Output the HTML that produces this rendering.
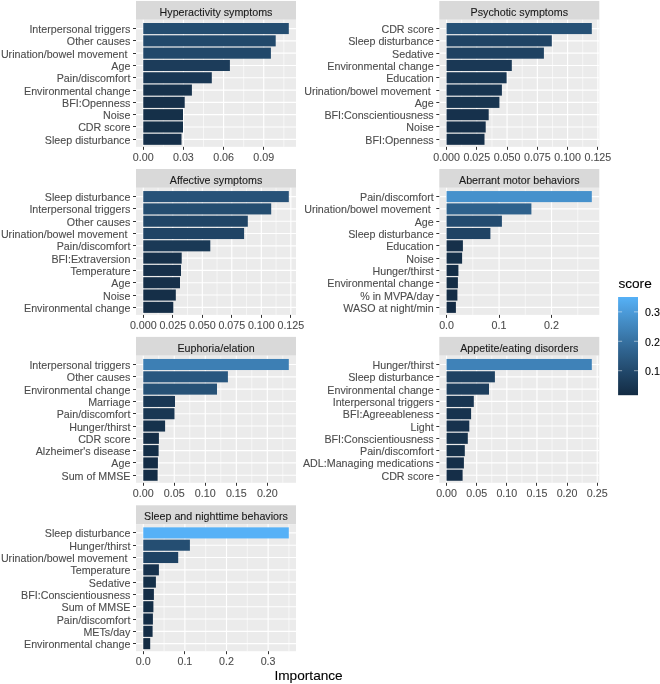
<!DOCTYPE html>
<html><head><meta charset="utf-8"><style>
html,body{margin:0;padding:0;background:#fff;}
svg{display:block;font-family:"Liberation Sans",sans-serif;will-change:transform;}
</style></head><body>
<svg width="660" height="684" viewBox="0 0 660 684">
<rect x="0" y="0" width="660" height="684" fill="#FFFFFF"/>
<rect x="136.0" y="0.95" width="160.0" height="18.8" fill="#D9D9D9"/>
<text x="216.0" y="15.549999999999999" font-size="10.7" fill="#1A1A1A" stroke="#1A1A1A" stroke-width="0.1" text-anchor="middle">Hyperactivity symptoms</text>
<rect x="136.0" y="19.75" width="160.0" height="127.10" fill="#EBEBEB"/>
<line x1="163.35" y1="19.75" x2="163.35" y2="146.85" stroke="#FFFFFF" stroke-width="0.6"/>
<line x1="203.52" y1="19.75" x2="203.52" y2="146.85" stroke="#FFFFFF" stroke-width="0.6"/>
<line x1="243.68" y1="19.75" x2="243.68" y2="146.85" stroke="#FFFFFF" stroke-width="0.6"/>
<line x1="283.84" y1="19.75" x2="283.84" y2="146.85" stroke="#FFFFFF" stroke-width="0.6"/>
<line x1="143.27" y1="19.75" x2="143.27" y2="146.85" stroke="#FFFFFF" stroke-width="1.15"/>
<line x1="183.43" y1="19.75" x2="183.43" y2="146.85" stroke="#FFFFFF" stroke-width="1.15"/>
<line x1="223.60" y1="19.75" x2="223.60" y2="146.85" stroke="#FFFFFF" stroke-width="1.15"/>
<line x1="263.76" y1="19.75" x2="263.76" y2="146.85" stroke="#FFFFFF" stroke-width="1.15"/>
<line x1="136.0" y1="28.55" x2="296.0" y2="28.55" stroke="#FFFFFF" stroke-width="1.15"/>
<line x1="136.0" y1="40.86" x2="296.0" y2="40.86" stroke="#FFFFFF" stroke-width="1.15"/>
<line x1="136.0" y1="53.16" x2="296.0" y2="53.16" stroke="#FFFFFF" stroke-width="1.15"/>
<line x1="136.0" y1="65.47" x2="296.0" y2="65.47" stroke="#FFFFFF" stroke-width="1.15"/>
<line x1="136.0" y1="77.77" x2="296.0" y2="77.77" stroke="#FFFFFF" stroke-width="1.15"/>
<line x1="136.0" y1="90.08" x2="296.0" y2="90.08" stroke="#FFFFFF" stroke-width="1.15"/>
<line x1="136.0" y1="102.38" x2="296.0" y2="102.38" stroke="#FFFFFF" stroke-width="1.15"/>
<line x1="136.0" y1="114.68" x2="296.0" y2="114.68" stroke="#FFFFFF" stroke-width="1.15"/>
<line x1="136.0" y1="126.99" x2="296.0" y2="126.99" stroke="#FFFFFF" stroke-width="1.15"/>
<line x1="136.0" y1="139.30" x2="296.0" y2="139.30" stroke="#FFFFFF" stroke-width="1.15"/>
<rect x="143.27" y="23.01" width="145.53" height="11.07" fill="#244D70"/>
<rect x="143.27" y="35.32" width="132.43" height="11.07" fill="#22496B"/>
<rect x="143.27" y="47.62" width="127.63" height="11.07" fill="#21486A"/>
<rect x="143.27" y="59.93" width="86.63" height="11.07" fill="#1C3C5A"/>
<rect x="143.27" y="72.23" width="68.53" height="11.07" fill="#193754"/>
<rect x="143.27" y="84.54" width="48.63" height="11.07" fill="#17324C"/>
<rect x="143.27" y="96.84" width="41.43" height="11.07" fill="#16304A"/>
<rect x="143.27" y="109.15" width="39.73" height="11.07" fill="#153049"/>
<rect x="143.27" y="121.45" width="39.73" height="11.07" fill="#153049"/>
<rect x="143.27" y="133.76" width="38.23" height="11.07" fill="#152F49"/>
<line x1="133.00" y1="28.50" x2="136.0" y2="28.50" stroke="#333333" stroke-width="1.0"/>
<text x="130.40" y="33.05" font-size="10.7" fill="#4D4D4D" stroke="#4D4D4D" stroke-width="0.1" text-anchor="end" xml:space="preserve">Interpersonal triggers</text>
<line x1="133.00" y1="40.50" x2="136.0" y2="40.50" stroke="#333333" stroke-width="1.0"/>
<text x="130.40" y="45.36" font-size="10.7" fill="#4D4D4D" stroke="#4D4D4D" stroke-width="0.1" text-anchor="end" xml:space="preserve">Other causes</text>
<line x1="133.00" y1="53.50" x2="136.0" y2="53.50" stroke="#333333" stroke-width="1.0"/>
<text x="130.40" y="57.66" font-size="10.7" fill="#4D4D4D" stroke="#4D4D4D" stroke-width="0.1" text-anchor="end" xml:space="preserve">Urination/bowel movement </text>
<line x1="133.00" y1="65.50" x2="136.0" y2="65.50" stroke="#333333" stroke-width="1.0"/>
<text x="130.40" y="69.97" font-size="10.7" fill="#4D4D4D" stroke="#4D4D4D" stroke-width="0.1" text-anchor="end" xml:space="preserve">Age</text>
<line x1="133.00" y1="77.50" x2="136.0" y2="77.50" stroke="#333333" stroke-width="1.0"/>
<text x="130.40" y="82.27" font-size="10.7" fill="#4D4D4D" stroke="#4D4D4D" stroke-width="0.1" text-anchor="end" xml:space="preserve">Pain/discomfort</text>
<line x1="133.00" y1="90.50" x2="136.0" y2="90.50" stroke="#333333" stroke-width="1.0"/>
<text x="130.40" y="94.58" font-size="10.7" fill="#4D4D4D" stroke="#4D4D4D" stroke-width="0.1" text-anchor="end" xml:space="preserve">Environmental change</text>
<line x1="133.00" y1="102.50" x2="136.0" y2="102.50" stroke="#333333" stroke-width="1.0"/>
<text x="130.40" y="106.88" font-size="10.7" fill="#4D4D4D" stroke="#4D4D4D" stroke-width="0.1" text-anchor="end" xml:space="preserve">BFI:Openness</text>
<line x1="133.00" y1="114.50" x2="136.0" y2="114.50" stroke="#333333" stroke-width="1.0"/>
<text x="130.40" y="119.18" font-size="10.7" fill="#4D4D4D" stroke="#4D4D4D" stroke-width="0.1" text-anchor="end" xml:space="preserve">Noise</text>
<line x1="133.00" y1="126.50" x2="136.0" y2="126.50" stroke="#333333" stroke-width="1.0"/>
<text x="130.40" y="131.49" font-size="10.7" fill="#4D4D4D" stroke="#4D4D4D" stroke-width="0.1" text-anchor="end" xml:space="preserve">CDR score</text>
<line x1="133.00" y1="139.50" x2="136.0" y2="139.50" stroke="#333333" stroke-width="1.0"/>
<text x="130.40" y="143.80" font-size="10.7" fill="#4D4D4D" stroke="#4D4D4D" stroke-width="0.1" text-anchor="end" xml:space="preserve">Sleep disturbance</text>
<line x1="143.50" y1="146.85" x2="143.50" y2="149.85" stroke="#333333" stroke-width="1.0"/>
<text x="143.27" y="161.05" font-size="10.7" fill="#4D4D4D" stroke="#4D4D4D" stroke-width="0.1" text-anchor="middle">0.00</text>
<line x1="183.50" y1="146.85" x2="183.50" y2="149.85" stroke="#333333" stroke-width="1.0"/>
<text x="183.43" y="161.05" font-size="10.7" fill="#4D4D4D" stroke="#4D4D4D" stroke-width="0.1" text-anchor="middle">0.03</text>
<line x1="223.50" y1="146.85" x2="223.50" y2="149.85" stroke="#333333" stroke-width="1.0"/>
<text x="223.60" y="161.05" font-size="10.7" fill="#4D4D4D" stroke="#4D4D4D" stroke-width="0.1" text-anchor="middle">0.06</text>
<line x1="263.50" y1="146.85" x2="263.50" y2="149.85" stroke="#333333" stroke-width="1.0"/>
<text x="263.76" y="161.05" font-size="10.7" fill="#4D4D4D" stroke="#4D4D4D" stroke-width="0.1" text-anchor="middle">0.09</text>
<rect x="439.3" y="0.95" width="160.0" height="18.8" fill="#D9D9D9"/>
<text x="519.3" y="15.549999999999999" font-size="10.7" fill="#1A1A1A" stroke="#1A1A1A" stroke-width="0.1" text-anchor="middle">Psychotic symptoms</text>
<rect x="439.3" y="19.75" width="160.0" height="127.10" fill="#EBEBEB"/>
<line x1="461.70" y1="19.75" x2="461.70" y2="146.85" stroke="#FFFFFF" stroke-width="0.6"/>
<line x1="491.96" y1="19.75" x2="491.96" y2="146.85" stroke="#FFFFFF" stroke-width="0.6"/>
<line x1="522.22" y1="19.75" x2="522.22" y2="146.85" stroke="#FFFFFF" stroke-width="0.6"/>
<line x1="552.48" y1="19.75" x2="552.48" y2="146.85" stroke="#FFFFFF" stroke-width="0.6"/>
<line x1="582.74" y1="19.75" x2="582.74" y2="146.85" stroke="#FFFFFF" stroke-width="0.6"/>
<line x1="446.57" y1="19.75" x2="446.57" y2="146.85" stroke="#FFFFFF" stroke-width="1.15"/>
<line x1="476.83" y1="19.75" x2="476.83" y2="146.85" stroke="#FFFFFF" stroke-width="1.15"/>
<line x1="507.09" y1="19.75" x2="507.09" y2="146.85" stroke="#FFFFFF" stroke-width="1.15"/>
<line x1="537.35" y1="19.75" x2="537.35" y2="146.85" stroke="#FFFFFF" stroke-width="1.15"/>
<line x1="567.61" y1="19.75" x2="567.61" y2="146.85" stroke="#FFFFFF" stroke-width="1.15"/>
<line x1="597.87" y1="19.75" x2="597.87" y2="146.85" stroke="#FFFFFF" stroke-width="1.15"/>
<line x1="439.3" y1="28.55" x2="599.3" y2="28.55" stroke="#FFFFFF" stroke-width="1.15"/>
<line x1="439.3" y1="40.86" x2="599.3" y2="40.86" stroke="#FFFFFF" stroke-width="1.15"/>
<line x1="439.3" y1="53.16" x2="599.3" y2="53.16" stroke="#FFFFFF" stroke-width="1.15"/>
<line x1="439.3" y1="65.47" x2="599.3" y2="65.47" stroke="#FFFFFF" stroke-width="1.15"/>
<line x1="439.3" y1="77.77" x2="599.3" y2="77.77" stroke="#FFFFFF" stroke-width="1.15"/>
<line x1="439.3" y1="90.08" x2="599.3" y2="90.08" stroke="#FFFFFF" stroke-width="1.15"/>
<line x1="439.3" y1="102.38" x2="599.3" y2="102.38" stroke="#FFFFFF" stroke-width="1.15"/>
<line x1="439.3" y1="114.68" x2="599.3" y2="114.68" stroke="#FFFFFF" stroke-width="1.15"/>
<line x1="439.3" y1="126.99" x2="599.3" y2="126.99" stroke="#FFFFFF" stroke-width="1.15"/>
<line x1="439.3" y1="139.30" x2="599.3" y2="139.30" stroke="#FFFFFF" stroke-width="1.15"/>
<rect x="446.57" y="23.01" width="145.23" height="11.07" fill="#265176"/>
<rect x="446.57" y="35.32" width="105.23" height="11.07" fill="#204465"/>
<rect x="446.57" y="47.62" width="97.33" height="11.07" fill="#1F4262"/>
<rect x="446.57" y="59.93" width="65.23" height="11.07" fill="#1A3855"/>
<rect x="446.57" y="72.23" width="60.03" height="11.07" fill="#193753"/>
<rect x="446.57" y="84.54" width="55.33" height="11.07" fill="#183551"/>
<rect x="446.57" y="96.84" width="52.83" height="11.07" fill="#183550"/>
<rect x="446.57" y="109.15" width="42.13" height="11.07" fill="#16314C"/>
<rect x="446.57" y="121.45" width="39.13" height="11.07" fill="#16304A"/>
<rect x="446.57" y="133.76" width="37.93" height="11.07" fill="#16304A"/>
<line x1="436.30" y1="28.50" x2="439.3" y2="28.50" stroke="#333333" stroke-width="1.0"/>
<text x="433.70" y="33.05" font-size="10.7" fill="#4D4D4D" stroke="#4D4D4D" stroke-width="0.1" text-anchor="end" xml:space="preserve">CDR score</text>
<line x1="436.30" y1="40.50" x2="439.3" y2="40.50" stroke="#333333" stroke-width="1.0"/>
<text x="433.70" y="45.36" font-size="10.7" fill="#4D4D4D" stroke="#4D4D4D" stroke-width="0.1" text-anchor="end" xml:space="preserve">Sleep disturbance</text>
<line x1="436.30" y1="53.50" x2="439.3" y2="53.50" stroke="#333333" stroke-width="1.0"/>
<text x="433.70" y="57.66" font-size="10.7" fill="#4D4D4D" stroke="#4D4D4D" stroke-width="0.1" text-anchor="end" xml:space="preserve">Sedative</text>
<line x1="436.30" y1="65.50" x2="439.3" y2="65.50" stroke="#333333" stroke-width="1.0"/>
<text x="433.70" y="69.97" font-size="10.7" fill="#4D4D4D" stroke="#4D4D4D" stroke-width="0.1" text-anchor="end" xml:space="preserve">Environmental change</text>
<line x1="436.30" y1="77.50" x2="439.3" y2="77.50" stroke="#333333" stroke-width="1.0"/>
<text x="433.70" y="82.27" font-size="10.7" fill="#4D4D4D" stroke="#4D4D4D" stroke-width="0.1" text-anchor="end" xml:space="preserve">Education</text>
<line x1="436.30" y1="90.50" x2="439.3" y2="90.50" stroke="#333333" stroke-width="1.0"/>
<text x="433.70" y="94.58" font-size="10.7" fill="#4D4D4D" stroke="#4D4D4D" stroke-width="0.1" text-anchor="end" xml:space="preserve">Urination/bowel movement </text>
<line x1="436.30" y1="102.50" x2="439.3" y2="102.50" stroke="#333333" stroke-width="1.0"/>
<text x="433.70" y="106.88" font-size="10.7" fill="#4D4D4D" stroke="#4D4D4D" stroke-width="0.1" text-anchor="end" xml:space="preserve">Age</text>
<line x1="436.30" y1="114.50" x2="439.3" y2="114.50" stroke="#333333" stroke-width="1.0"/>
<text x="433.70" y="119.18" font-size="10.7" fill="#4D4D4D" stroke="#4D4D4D" stroke-width="0.1" text-anchor="end" xml:space="preserve">BFI:Conscientiousness</text>
<line x1="436.30" y1="126.50" x2="439.3" y2="126.50" stroke="#333333" stroke-width="1.0"/>
<text x="433.70" y="131.49" font-size="10.7" fill="#4D4D4D" stroke="#4D4D4D" stroke-width="0.1" text-anchor="end" xml:space="preserve">Noise</text>
<line x1="436.30" y1="139.50" x2="439.3" y2="139.50" stroke="#333333" stroke-width="1.0"/>
<text x="433.70" y="143.80" font-size="10.7" fill="#4D4D4D" stroke="#4D4D4D" stroke-width="0.1" text-anchor="end" xml:space="preserve">BFI:Openness</text>
<line x1="446.50" y1="146.85" x2="446.50" y2="149.85" stroke="#333333" stroke-width="1.0"/>
<text x="446.57" y="161.05" font-size="10.7" fill="#4D4D4D" stroke="#4D4D4D" stroke-width="0.1" text-anchor="middle">0.000</text>
<line x1="476.50" y1="146.85" x2="476.50" y2="149.85" stroke="#333333" stroke-width="1.0"/>
<text x="476.83" y="161.05" font-size="10.7" fill="#4D4D4D" stroke="#4D4D4D" stroke-width="0.1" text-anchor="middle">0.025</text>
<line x1="507.50" y1="146.85" x2="507.50" y2="149.85" stroke="#333333" stroke-width="1.0"/>
<text x="507.09" y="161.05" font-size="10.7" fill="#4D4D4D" stroke="#4D4D4D" stroke-width="0.1" text-anchor="middle">0.050</text>
<line x1="537.50" y1="146.85" x2="537.50" y2="149.85" stroke="#333333" stroke-width="1.0"/>
<text x="537.35" y="161.05" font-size="10.7" fill="#4D4D4D" stroke="#4D4D4D" stroke-width="0.1" text-anchor="middle">0.075</text>
<line x1="567.50" y1="146.85" x2="567.50" y2="149.85" stroke="#333333" stroke-width="1.0"/>
<text x="567.61" y="161.05" font-size="10.7" fill="#4D4D4D" stroke="#4D4D4D" stroke-width="0.1" text-anchor="middle">0.100</text>
<line x1="597.50" y1="146.85" x2="597.50" y2="149.85" stroke="#333333" stroke-width="1.0"/>
<text x="597.87" y="161.05" font-size="10.7" fill="#4D4D4D" stroke="#4D4D4D" stroke-width="0.1" text-anchor="middle">0.125</text>
<rect x="136.0" y="169.0" width="160.0" height="18.8" fill="#D9D9D9"/>
<text x="216.0" y="183.6" font-size="10.7" fill="#1A1A1A" stroke="#1A1A1A" stroke-width="0.1" text-anchor="middle">Affective symptoms</text>
<rect x="136.0" y="187.8" width="160.0" height="127.10" fill="#EBEBEB"/>
<line x1="158.03" y1="187.8" x2="158.03" y2="314.9" stroke="#FFFFFF" stroke-width="0.6"/>
<line x1="187.54" y1="187.8" x2="187.54" y2="314.9" stroke="#FFFFFF" stroke-width="0.6"/>
<line x1="217.05" y1="187.8" x2="217.05" y2="314.9" stroke="#FFFFFF" stroke-width="0.6"/>
<line x1="246.56" y1="187.8" x2="246.56" y2="314.9" stroke="#FFFFFF" stroke-width="0.6"/>
<line x1="276.06" y1="187.8" x2="276.06" y2="314.9" stroke="#FFFFFF" stroke-width="0.6"/>
<line x1="143.27" y1="187.8" x2="143.27" y2="314.9" stroke="#FFFFFF" stroke-width="1.15"/>
<line x1="172.78" y1="187.8" x2="172.78" y2="314.9" stroke="#FFFFFF" stroke-width="1.15"/>
<line x1="202.29" y1="187.8" x2="202.29" y2="314.9" stroke="#FFFFFF" stroke-width="1.15"/>
<line x1="231.80" y1="187.8" x2="231.80" y2="314.9" stroke="#FFFFFF" stroke-width="1.15"/>
<line x1="261.31" y1="187.8" x2="261.31" y2="314.9" stroke="#FFFFFF" stroke-width="1.15"/>
<line x1="290.82" y1="187.8" x2="290.82" y2="314.9" stroke="#FFFFFF" stroke-width="1.15"/>
<line x1="136.0" y1="196.60" x2="296.0" y2="196.60" stroke="#FFFFFF" stroke-width="1.15"/>
<line x1="136.0" y1="208.91" x2="296.0" y2="208.91" stroke="#FFFFFF" stroke-width="1.15"/>
<line x1="136.0" y1="221.21" x2="296.0" y2="221.21" stroke="#FFFFFF" stroke-width="1.15"/>
<line x1="136.0" y1="233.51" x2="296.0" y2="233.51" stroke="#FFFFFF" stroke-width="1.15"/>
<line x1="136.0" y1="245.82" x2="296.0" y2="245.82" stroke="#FFFFFF" stroke-width="1.15"/>
<line x1="136.0" y1="258.12" x2="296.0" y2="258.12" stroke="#FFFFFF" stroke-width="1.15"/>
<line x1="136.0" y1="270.43" x2="296.0" y2="270.43" stroke="#FFFFFF" stroke-width="1.15"/>
<line x1="136.0" y1="282.74" x2="296.0" y2="282.74" stroke="#FFFFFF" stroke-width="1.15"/>
<line x1="136.0" y1="295.04" x2="296.0" y2="295.04" stroke="#FFFFFF" stroke-width="1.15"/>
<line x1="136.0" y1="307.35" x2="296.0" y2="307.35" stroke="#FFFFFF" stroke-width="1.15"/>
<rect x="143.27" y="191.06" width="145.53" height="11.07" fill="#275278"/>
<rect x="143.27" y="203.37" width="127.93" height="11.07" fill="#244D70"/>
<rect x="143.27" y="215.67" width="104.53" height="11.07" fill="#204566"/>
<rect x="143.27" y="227.98" width="100.83" height="11.07" fill="#204465"/>
<rect x="143.27" y="240.28" width="67.03" height="11.07" fill="#1A3956"/>
<rect x="143.27" y="252.59" width="38.43" height="11.07" fill="#16314B"/>
<rect x="143.27" y="264.89" width="37.73" height="11.07" fill="#16304A"/>
<rect x="143.27" y="277.20" width="36.73" height="11.07" fill="#16304A"/>
<rect x="143.27" y="289.50" width="32.53" height="11.07" fill="#152F48"/>
<rect x="143.27" y="301.81" width="30.03" height="11.07" fill="#152E47"/>
<line x1="133.00" y1="196.50" x2="136.0" y2="196.50" stroke="#333333" stroke-width="1.0"/>
<text x="130.40" y="201.10" font-size="10.7" fill="#4D4D4D" stroke="#4D4D4D" stroke-width="0.1" text-anchor="end" xml:space="preserve">Sleep disturbance</text>
<line x1="133.00" y1="208.50" x2="136.0" y2="208.50" stroke="#333333" stroke-width="1.0"/>
<text x="130.40" y="213.41" font-size="10.7" fill="#4D4D4D" stroke="#4D4D4D" stroke-width="0.1" text-anchor="end" xml:space="preserve">Interpersonal triggers</text>
<line x1="133.00" y1="221.50" x2="136.0" y2="221.50" stroke="#333333" stroke-width="1.0"/>
<text x="130.40" y="225.71" font-size="10.7" fill="#4D4D4D" stroke="#4D4D4D" stroke-width="0.1" text-anchor="end" xml:space="preserve">Other causes</text>
<line x1="133.00" y1="233.50" x2="136.0" y2="233.50" stroke="#333333" stroke-width="1.0"/>
<text x="130.40" y="238.01" font-size="10.7" fill="#4D4D4D" stroke="#4D4D4D" stroke-width="0.1" text-anchor="end" xml:space="preserve">Urination/bowel movement </text>
<line x1="133.00" y1="245.50" x2="136.0" y2="245.50" stroke="#333333" stroke-width="1.0"/>
<text x="130.40" y="250.32" font-size="10.7" fill="#4D4D4D" stroke="#4D4D4D" stroke-width="0.1" text-anchor="end" xml:space="preserve">Pain/discomfort</text>
<line x1="133.00" y1="258.50" x2="136.0" y2="258.50" stroke="#333333" stroke-width="1.0"/>
<text x="130.40" y="262.62" font-size="10.7" fill="#4D4D4D" stroke="#4D4D4D" stroke-width="0.1" text-anchor="end" xml:space="preserve">BFI:Extraversion</text>
<line x1="133.00" y1="270.50" x2="136.0" y2="270.50" stroke="#333333" stroke-width="1.0"/>
<text x="130.40" y="274.93" font-size="10.7" fill="#4D4D4D" stroke="#4D4D4D" stroke-width="0.1" text-anchor="end" xml:space="preserve">Temperature</text>
<line x1="133.00" y1="282.50" x2="136.0" y2="282.50" stroke="#333333" stroke-width="1.0"/>
<text x="130.40" y="287.24" font-size="10.7" fill="#4D4D4D" stroke="#4D4D4D" stroke-width="0.1" text-anchor="end" xml:space="preserve">Age</text>
<line x1="133.00" y1="295.50" x2="136.0" y2="295.50" stroke="#333333" stroke-width="1.0"/>
<text x="130.40" y="299.54" font-size="10.7" fill="#4D4D4D" stroke="#4D4D4D" stroke-width="0.1" text-anchor="end" xml:space="preserve">Noise</text>
<line x1="133.00" y1="307.50" x2="136.0" y2="307.50" stroke="#333333" stroke-width="1.0"/>
<text x="130.40" y="311.85" font-size="10.7" fill="#4D4D4D" stroke="#4D4D4D" stroke-width="0.1" text-anchor="end" xml:space="preserve">Environmental change</text>
<line x1="143.50" y1="314.9" x2="143.50" y2="317.90" stroke="#333333" stroke-width="1.0"/>
<text x="143.27" y="329.10" font-size="10.7" fill="#4D4D4D" stroke="#4D4D4D" stroke-width="0.1" text-anchor="middle">0.000</text>
<line x1="172.50" y1="314.9" x2="172.50" y2="317.90" stroke="#333333" stroke-width="1.0"/>
<text x="172.78" y="329.10" font-size="10.7" fill="#4D4D4D" stroke="#4D4D4D" stroke-width="0.1" text-anchor="middle">0.025</text>
<line x1="202.50" y1="314.9" x2="202.50" y2="317.90" stroke="#333333" stroke-width="1.0"/>
<text x="202.29" y="329.10" font-size="10.7" fill="#4D4D4D" stroke="#4D4D4D" stroke-width="0.1" text-anchor="middle">0.050</text>
<line x1="231.50" y1="314.9" x2="231.50" y2="317.90" stroke="#333333" stroke-width="1.0"/>
<text x="231.80" y="329.10" font-size="10.7" fill="#4D4D4D" stroke="#4D4D4D" stroke-width="0.1" text-anchor="middle">0.075</text>
<line x1="261.50" y1="314.9" x2="261.50" y2="317.90" stroke="#333333" stroke-width="1.0"/>
<text x="261.31" y="329.10" font-size="10.7" fill="#4D4D4D" stroke="#4D4D4D" stroke-width="0.1" text-anchor="middle">0.100</text>
<line x1="290.50" y1="314.9" x2="290.50" y2="317.90" stroke="#333333" stroke-width="1.0"/>
<text x="290.82" y="329.10" font-size="10.7" fill="#4D4D4D" stroke="#4D4D4D" stroke-width="0.1" text-anchor="middle">0.125</text>
<rect x="439.3" y="169.0" width="160.0" height="18.8" fill="#D9D9D9"/>
<text x="519.3" y="183.6" font-size="10.7" fill="#1A1A1A" stroke="#1A1A1A" stroke-width="0.1" text-anchor="middle">Aberrant motor behaviors</text>
<rect x="439.3" y="187.8" width="160.0" height="127.10" fill="#EBEBEB"/>
<line x1="472.81" y1="187.8" x2="472.81" y2="314.9" stroke="#FFFFFF" stroke-width="0.6"/>
<line x1="525.29" y1="187.8" x2="525.29" y2="314.9" stroke="#FFFFFF" stroke-width="0.6"/>
<line x1="577.76" y1="187.8" x2="577.76" y2="314.9" stroke="#FFFFFF" stroke-width="0.6"/>
<line x1="446.57" y1="187.8" x2="446.57" y2="314.9" stroke="#FFFFFF" stroke-width="1.15"/>
<line x1="499.05" y1="187.8" x2="499.05" y2="314.9" stroke="#FFFFFF" stroke-width="1.15"/>
<line x1="551.53" y1="187.8" x2="551.53" y2="314.9" stroke="#FFFFFF" stroke-width="1.15"/>
<line x1="439.3" y1="196.60" x2="599.3" y2="196.60" stroke="#FFFFFF" stroke-width="1.15"/>
<line x1="439.3" y1="208.91" x2="599.3" y2="208.91" stroke="#FFFFFF" stroke-width="1.15"/>
<line x1="439.3" y1="221.21" x2="599.3" y2="221.21" stroke="#FFFFFF" stroke-width="1.15"/>
<line x1="439.3" y1="233.51" x2="599.3" y2="233.51" stroke="#FFFFFF" stroke-width="1.15"/>
<line x1="439.3" y1="245.82" x2="599.3" y2="245.82" stroke="#FFFFFF" stroke-width="1.15"/>
<line x1="439.3" y1="258.12" x2="599.3" y2="258.12" stroke="#FFFFFF" stroke-width="1.15"/>
<line x1="439.3" y1="270.43" x2="599.3" y2="270.43" stroke="#FFFFFF" stroke-width="1.15"/>
<line x1="439.3" y1="282.74" x2="599.3" y2="282.74" stroke="#FFFFFF" stroke-width="1.15"/>
<line x1="439.3" y1="295.04" x2="599.3" y2="295.04" stroke="#FFFFFF" stroke-width="1.15"/>
<line x1="439.3" y1="307.35" x2="599.3" y2="307.35" stroke="#FFFFFF" stroke-width="1.15"/>
<rect x="446.57" y="191.06" width="145.23" height="11.07" fill="#4691CC"/>
<rect x="446.57" y="203.37" width="84.83" height="11.07" fill="#2E618C"/>
<rect x="446.57" y="215.67" width="55.33" height="11.07" fill="#234B6F"/>
<rect x="446.57" y="227.98" width="43.83" height="11.07" fill="#1F4364"/>
<rect x="446.57" y="240.28" width="16.33" height="11.07" fill="#16304A"/>
<rect x="446.57" y="252.59" width="15.53" height="11.07" fill="#153049"/>
<rect x="446.57" y="264.89" width="11.83" height="11.07" fill="#142D46"/>
<rect x="446.57" y="277.20" width="11.33" height="11.07" fill="#142D45"/>
<rect x="446.57" y="289.50" width="10.83" height="11.07" fill="#142C45"/>
<rect x="446.57" y="301.81" width="9.33" height="11.07" fill="#132B44"/>
<line x1="436.30" y1="196.50" x2="439.3" y2="196.50" stroke="#333333" stroke-width="1.0"/>
<text x="433.70" y="201.10" font-size="10.7" fill="#4D4D4D" stroke="#4D4D4D" stroke-width="0.1" text-anchor="end" xml:space="preserve">Pain/discomfort</text>
<line x1="436.30" y1="208.50" x2="439.3" y2="208.50" stroke="#333333" stroke-width="1.0"/>
<text x="433.70" y="213.41" font-size="10.7" fill="#4D4D4D" stroke="#4D4D4D" stroke-width="0.1" text-anchor="end" xml:space="preserve">Urination/bowel movement </text>
<line x1="436.30" y1="221.50" x2="439.3" y2="221.50" stroke="#333333" stroke-width="1.0"/>
<text x="433.70" y="225.71" font-size="10.7" fill="#4D4D4D" stroke="#4D4D4D" stroke-width="0.1" text-anchor="end" xml:space="preserve">Age</text>
<line x1="436.30" y1="233.50" x2="439.3" y2="233.50" stroke="#333333" stroke-width="1.0"/>
<text x="433.70" y="238.01" font-size="10.7" fill="#4D4D4D" stroke="#4D4D4D" stroke-width="0.1" text-anchor="end" xml:space="preserve">Sleep disturbance</text>
<line x1="436.30" y1="245.50" x2="439.3" y2="245.50" stroke="#333333" stroke-width="1.0"/>
<text x="433.70" y="250.32" font-size="10.7" fill="#4D4D4D" stroke="#4D4D4D" stroke-width="0.1" text-anchor="end" xml:space="preserve">Education</text>
<line x1="436.30" y1="258.50" x2="439.3" y2="258.50" stroke="#333333" stroke-width="1.0"/>
<text x="433.70" y="262.62" font-size="10.7" fill="#4D4D4D" stroke="#4D4D4D" stroke-width="0.1" text-anchor="end" xml:space="preserve">Noise</text>
<line x1="436.30" y1="270.50" x2="439.3" y2="270.50" stroke="#333333" stroke-width="1.0"/>
<text x="433.70" y="274.93" font-size="10.7" fill="#4D4D4D" stroke="#4D4D4D" stroke-width="0.1" text-anchor="end" xml:space="preserve">Hunger/thirst</text>
<line x1="436.30" y1="282.50" x2="439.3" y2="282.50" stroke="#333333" stroke-width="1.0"/>
<text x="433.70" y="287.24" font-size="10.7" fill="#4D4D4D" stroke="#4D4D4D" stroke-width="0.1" text-anchor="end" xml:space="preserve">Environmental change</text>
<line x1="436.30" y1="295.50" x2="439.3" y2="295.50" stroke="#333333" stroke-width="1.0"/>
<text x="433.70" y="299.54" font-size="10.7" fill="#4D4D4D" stroke="#4D4D4D" stroke-width="0.1" text-anchor="end" xml:space="preserve">% in MVPA/day</text>
<line x1="436.30" y1="307.50" x2="439.3" y2="307.50" stroke="#333333" stroke-width="1.0"/>
<text x="433.70" y="311.85" font-size="10.7" fill="#4D4D4D" stroke="#4D4D4D" stroke-width="0.1" text-anchor="end" xml:space="preserve">WASO at night/min</text>
<line x1="446.50" y1="314.9" x2="446.50" y2="317.90" stroke="#333333" stroke-width="1.0"/>
<text x="446.57" y="329.10" font-size="10.7" fill="#4D4D4D" stroke="#4D4D4D" stroke-width="0.1" text-anchor="middle">0.0</text>
<line x1="499.50" y1="314.9" x2="499.50" y2="317.90" stroke="#333333" stroke-width="1.0"/>
<text x="499.05" y="329.10" font-size="10.7" fill="#4D4D4D" stroke="#4D4D4D" stroke-width="0.1" text-anchor="middle">0.1</text>
<line x1="551.50" y1="314.9" x2="551.50" y2="317.90" stroke="#333333" stroke-width="1.0"/>
<text x="551.53" y="329.10" font-size="10.7" fill="#4D4D4D" stroke="#4D4D4D" stroke-width="0.1" text-anchor="middle">0.2</text>
<rect x="136.0" y="336.9" width="160.0" height="18.8" fill="#D9D9D9"/>
<text x="216.0" y="351.5" font-size="10.7" fill="#1A1A1A" stroke="#1A1A1A" stroke-width="0.1" text-anchor="middle">Euphoria/elation</text>
<rect x="136.0" y="355.7" width="160.0" height="127.10" fill="#EBEBEB"/>
<line x1="158.78" y1="355.7" x2="158.78" y2="482.79999999999995" stroke="#FFFFFF" stroke-width="0.6"/>
<line x1="189.78" y1="355.7" x2="189.78" y2="482.79999999999995" stroke="#FFFFFF" stroke-width="0.6"/>
<line x1="220.79" y1="355.7" x2="220.79" y2="482.79999999999995" stroke="#FFFFFF" stroke-width="0.6"/>
<line x1="251.79" y1="355.7" x2="251.79" y2="482.79999999999995" stroke="#FFFFFF" stroke-width="0.6"/>
<line x1="282.80" y1="355.7" x2="282.80" y2="482.79999999999995" stroke="#FFFFFF" stroke-width="0.6"/>
<line x1="143.27" y1="355.7" x2="143.27" y2="482.79999999999995" stroke="#FFFFFF" stroke-width="1.15"/>
<line x1="174.28" y1="355.7" x2="174.28" y2="482.79999999999995" stroke="#FFFFFF" stroke-width="1.15"/>
<line x1="205.28" y1="355.7" x2="205.28" y2="482.79999999999995" stroke="#FFFFFF" stroke-width="1.15"/>
<line x1="236.29" y1="355.7" x2="236.29" y2="482.79999999999995" stroke="#FFFFFF" stroke-width="1.15"/>
<line x1="267.30" y1="355.7" x2="267.30" y2="482.79999999999995" stroke="#FFFFFF" stroke-width="1.15"/>
<line x1="136.0" y1="364.50" x2="296.0" y2="364.50" stroke="#FFFFFF" stroke-width="1.15"/>
<line x1="136.0" y1="376.81" x2="296.0" y2="376.81" stroke="#FFFFFF" stroke-width="1.15"/>
<line x1="136.0" y1="389.11" x2="296.0" y2="389.11" stroke="#FFFFFF" stroke-width="1.15"/>
<line x1="136.0" y1="401.42" x2="296.0" y2="401.42" stroke="#FFFFFF" stroke-width="1.15"/>
<line x1="136.0" y1="413.72" x2="296.0" y2="413.72" stroke="#FFFFFF" stroke-width="1.15"/>
<line x1="136.0" y1="426.02" x2="296.0" y2="426.02" stroke="#FFFFFF" stroke-width="1.15"/>
<line x1="136.0" y1="438.33" x2="296.0" y2="438.33" stroke="#FFFFFF" stroke-width="1.15"/>
<line x1="136.0" y1="450.63" x2="296.0" y2="450.63" stroke="#FFFFFF" stroke-width="1.15"/>
<line x1="136.0" y1="462.94" x2="296.0" y2="462.94" stroke="#FFFFFF" stroke-width="1.15"/>
<line x1="136.0" y1="475.25" x2="296.0" y2="475.25" stroke="#FFFFFF" stroke-width="1.15"/>
<rect x="143.27" y="358.96" width="145.53" height="11.07" fill="#3D7FB4"/>
<rect x="143.27" y="371.27" width="84.63" height="11.07" fill="#29577F"/>
<rect x="143.27" y="383.57" width="73.73" height="11.07" fill="#265176"/>
<rect x="143.27" y="395.88" width="31.73" height="11.07" fill="#193754"/>
<rect x="143.27" y="408.18" width="31.23" height="11.07" fill="#193753"/>
<rect x="143.27" y="420.49" width="21.83" height="11.07" fill="#16324C"/>
<rect x="143.27" y="432.79" width="15.63" height="11.07" fill="#152E47"/>
<rect x="143.27" y="445.10" width="15.33" height="11.07" fill="#142E47"/>
<rect x="143.27" y="457.40" width="14.63" height="11.07" fill="#142D46"/>
<rect x="143.27" y="469.71" width="14.33" height="11.07" fill="#142D46"/>
<line x1="133.00" y1="364.50" x2="136.0" y2="364.50" stroke="#333333" stroke-width="1.0"/>
<text x="130.40" y="369.00" font-size="10.7" fill="#4D4D4D" stroke="#4D4D4D" stroke-width="0.1" text-anchor="end" xml:space="preserve">Interpersonal triggers</text>
<line x1="133.00" y1="376.50" x2="136.0" y2="376.50" stroke="#333333" stroke-width="1.0"/>
<text x="130.40" y="381.31" font-size="10.7" fill="#4D4D4D" stroke="#4D4D4D" stroke-width="0.1" text-anchor="end" xml:space="preserve">Other causes</text>
<line x1="133.00" y1="389.50" x2="136.0" y2="389.50" stroke="#333333" stroke-width="1.0"/>
<text x="130.40" y="393.61" font-size="10.7" fill="#4D4D4D" stroke="#4D4D4D" stroke-width="0.1" text-anchor="end" xml:space="preserve">Environmental change</text>
<line x1="133.00" y1="401.50" x2="136.0" y2="401.50" stroke="#333333" stroke-width="1.0"/>
<text x="130.40" y="405.92" font-size="10.7" fill="#4D4D4D" stroke="#4D4D4D" stroke-width="0.1" text-anchor="end" xml:space="preserve">Marriage</text>
<line x1="133.00" y1="413.50" x2="136.0" y2="413.50" stroke="#333333" stroke-width="1.0"/>
<text x="130.40" y="418.22" font-size="10.7" fill="#4D4D4D" stroke="#4D4D4D" stroke-width="0.1" text-anchor="end" xml:space="preserve">Pain/discomfort</text>
<line x1="133.00" y1="426.50" x2="136.0" y2="426.50" stroke="#333333" stroke-width="1.0"/>
<text x="130.40" y="430.52" font-size="10.7" fill="#4D4D4D" stroke="#4D4D4D" stroke-width="0.1" text-anchor="end" xml:space="preserve">Hunger/thirst</text>
<line x1="133.00" y1="438.50" x2="136.0" y2="438.50" stroke="#333333" stroke-width="1.0"/>
<text x="130.40" y="442.83" font-size="10.7" fill="#4D4D4D" stroke="#4D4D4D" stroke-width="0.1" text-anchor="end" xml:space="preserve">CDR score</text>
<line x1="133.00" y1="450.50" x2="136.0" y2="450.50" stroke="#333333" stroke-width="1.0"/>
<text x="130.40" y="455.13" font-size="10.7" fill="#4D4D4D" stroke="#4D4D4D" stroke-width="0.1" text-anchor="end" xml:space="preserve">Alzheimer's disease</text>
<line x1="133.00" y1="462.50" x2="136.0" y2="462.50" stroke="#333333" stroke-width="1.0"/>
<text x="130.40" y="467.44" font-size="10.7" fill="#4D4D4D" stroke="#4D4D4D" stroke-width="0.1" text-anchor="end" xml:space="preserve">Age</text>
<line x1="133.00" y1="475.50" x2="136.0" y2="475.50" stroke="#333333" stroke-width="1.0"/>
<text x="130.40" y="479.75" font-size="10.7" fill="#4D4D4D" stroke="#4D4D4D" stroke-width="0.1" text-anchor="end" xml:space="preserve">Sum of MMSE</text>
<line x1="143.50" y1="482.79999999999995" x2="143.50" y2="485.80" stroke="#333333" stroke-width="1.0"/>
<text x="143.27" y="497.00" font-size="10.7" fill="#4D4D4D" stroke="#4D4D4D" stroke-width="0.1" text-anchor="middle">0.00</text>
<line x1="174.50" y1="482.79999999999995" x2="174.50" y2="485.80" stroke="#333333" stroke-width="1.0"/>
<text x="174.28" y="497.00" font-size="10.7" fill="#4D4D4D" stroke="#4D4D4D" stroke-width="0.1" text-anchor="middle">0.05</text>
<line x1="205.50" y1="482.79999999999995" x2="205.50" y2="485.80" stroke="#333333" stroke-width="1.0"/>
<text x="205.28" y="497.00" font-size="10.7" fill="#4D4D4D" stroke="#4D4D4D" stroke-width="0.1" text-anchor="middle">0.10</text>
<line x1="236.50" y1="482.79999999999995" x2="236.50" y2="485.80" stroke="#333333" stroke-width="1.0"/>
<text x="236.29" y="497.00" font-size="10.7" fill="#4D4D4D" stroke="#4D4D4D" stroke-width="0.1" text-anchor="middle">0.15</text>
<line x1="267.50" y1="482.79999999999995" x2="267.50" y2="485.80" stroke="#333333" stroke-width="1.0"/>
<text x="267.30" y="497.00" font-size="10.7" fill="#4D4D4D" stroke="#4D4D4D" stroke-width="0.1" text-anchor="middle">0.20</text>
<rect x="439.3" y="336.9" width="160.0" height="18.8" fill="#D9D9D9"/>
<text x="519.3" y="351.5" font-size="10.7" fill="#1A1A1A" stroke="#1A1A1A" stroke-width="0.1" text-anchor="middle">Appetite/eating disorders</text>
<rect x="439.3" y="355.7" width="160.0" height="127.10" fill="#EBEBEB"/>
<line x1="461.64" y1="355.7" x2="461.64" y2="482.79999999999995" stroke="#FFFFFF" stroke-width="0.6"/>
<line x1="491.77" y1="355.7" x2="491.77" y2="482.79999999999995" stroke="#FFFFFF" stroke-width="0.6"/>
<line x1="521.90" y1="355.7" x2="521.90" y2="482.79999999999995" stroke="#FFFFFF" stroke-width="0.6"/>
<line x1="552.03" y1="355.7" x2="552.03" y2="482.79999999999995" stroke="#FFFFFF" stroke-width="0.6"/>
<line x1="582.15" y1="355.7" x2="582.15" y2="482.79999999999995" stroke="#FFFFFF" stroke-width="0.6"/>
<line x1="446.57" y1="355.7" x2="446.57" y2="482.79999999999995" stroke="#FFFFFF" stroke-width="1.15"/>
<line x1="476.70" y1="355.7" x2="476.70" y2="482.79999999999995" stroke="#FFFFFF" stroke-width="1.15"/>
<line x1="506.83" y1="355.7" x2="506.83" y2="482.79999999999995" stroke="#FFFFFF" stroke-width="1.15"/>
<line x1="536.96" y1="355.7" x2="536.96" y2="482.79999999999995" stroke="#FFFFFF" stroke-width="1.15"/>
<line x1="567.09" y1="355.7" x2="567.09" y2="482.79999999999995" stroke="#FFFFFF" stroke-width="1.15"/>
<line x1="597.22" y1="355.7" x2="597.22" y2="482.79999999999995" stroke="#FFFFFF" stroke-width="1.15"/>
<line x1="439.3" y1="364.50" x2="599.3" y2="364.50" stroke="#FFFFFF" stroke-width="1.15"/>
<line x1="439.3" y1="376.81" x2="599.3" y2="376.81" stroke="#FFFFFF" stroke-width="1.15"/>
<line x1="439.3" y1="389.11" x2="599.3" y2="389.11" stroke="#FFFFFF" stroke-width="1.15"/>
<line x1="439.3" y1="401.42" x2="599.3" y2="401.42" stroke="#FFFFFF" stroke-width="1.15"/>
<line x1="439.3" y1="413.72" x2="599.3" y2="413.72" stroke="#FFFFFF" stroke-width="1.15"/>
<line x1="439.3" y1="426.02" x2="599.3" y2="426.02" stroke="#FFFFFF" stroke-width="1.15"/>
<line x1="439.3" y1="438.33" x2="599.3" y2="438.33" stroke="#FFFFFF" stroke-width="1.15"/>
<line x1="439.3" y1="450.63" x2="599.3" y2="450.63" stroke="#FFFFFF" stroke-width="1.15"/>
<line x1="439.3" y1="462.94" x2="599.3" y2="462.94" stroke="#FFFFFF" stroke-width="1.15"/>
<line x1="439.3" y1="475.25" x2="599.3" y2="475.25" stroke="#FFFFFF" stroke-width="1.15"/>
<rect x="446.57" y="358.96" width="145.23" height="11.07" fill="#3F82B8"/>
<rect x="446.57" y="371.27" width="48.33" height="11.07" fill="#1F4262"/>
<rect x="446.57" y="383.57" width="42.43" height="11.07" fill="#1D3E5D"/>
<rect x="446.57" y="395.88" width="27.23" height="11.07" fill="#183551"/>
<rect x="446.57" y="408.18" width="24.53" height="11.07" fill="#17334E"/>
<rect x="446.57" y="420.49" width="22.73" height="11.07" fill="#17324D"/>
<rect x="446.57" y="432.79" width="21.23" height="11.07" fill="#16324C"/>
<rect x="446.57" y="445.10" width="18.23" height="11.07" fill="#153049"/>
<rect x="446.57" y="457.40" width="17.33" height="11.07" fill="#152F49"/>
<rect x="446.57" y="469.71" width="16.03" height="11.07" fill="#152E48"/>
<line x1="436.30" y1="364.50" x2="439.3" y2="364.50" stroke="#333333" stroke-width="1.0"/>
<text x="433.70" y="369.00" font-size="10.7" fill="#4D4D4D" stroke="#4D4D4D" stroke-width="0.1" text-anchor="end" xml:space="preserve">Hunger/thirst</text>
<line x1="436.30" y1="376.50" x2="439.3" y2="376.50" stroke="#333333" stroke-width="1.0"/>
<text x="433.70" y="381.31" font-size="10.7" fill="#4D4D4D" stroke="#4D4D4D" stroke-width="0.1" text-anchor="end" xml:space="preserve">Sleep disturbance</text>
<line x1="436.30" y1="389.50" x2="439.3" y2="389.50" stroke="#333333" stroke-width="1.0"/>
<text x="433.70" y="393.61" font-size="10.7" fill="#4D4D4D" stroke="#4D4D4D" stroke-width="0.1" text-anchor="end" xml:space="preserve">Environmental change</text>
<line x1="436.30" y1="401.50" x2="439.3" y2="401.50" stroke="#333333" stroke-width="1.0"/>
<text x="433.70" y="405.92" font-size="10.7" fill="#4D4D4D" stroke="#4D4D4D" stroke-width="0.1" text-anchor="end" xml:space="preserve">Interpersonal triggers</text>
<line x1="436.30" y1="413.50" x2="439.3" y2="413.50" stroke="#333333" stroke-width="1.0"/>
<text x="433.70" y="418.22" font-size="10.7" fill="#4D4D4D" stroke="#4D4D4D" stroke-width="0.1" text-anchor="end" xml:space="preserve">BFI:Agreeableness</text>
<line x1="436.30" y1="426.50" x2="439.3" y2="426.50" stroke="#333333" stroke-width="1.0"/>
<text x="433.70" y="430.52" font-size="10.7" fill="#4D4D4D" stroke="#4D4D4D" stroke-width="0.1" text-anchor="end" xml:space="preserve">Light</text>
<line x1="436.30" y1="438.50" x2="439.3" y2="438.50" stroke="#333333" stroke-width="1.0"/>
<text x="433.70" y="442.83" font-size="10.7" fill="#4D4D4D" stroke="#4D4D4D" stroke-width="0.1" text-anchor="end" xml:space="preserve">BFI:Conscientiousness</text>
<line x1="436.30" y1="450.50" x2="439.3" y2="450.50" stroke="#333333" stroke-width="1.0"/>
<text x="433.70" y="455.13" font-size="10.7" fill="#4D4D4D" stroke="#4D4D4D" stroke-width="0.1" text-anchor="end" xml:space="preserve">Pain/discomfort</text>
<line x1="436.30" y1="462.50" x2="439.3" y2="462.50" stroke="#333333" stroke-width="1.0"/>
<text x="433.70" y="467.44" font-size="10.7" fill="#4D4D4D" stroke="#4D4D4D" stroke-width="0.1" text-anchor="end" xml:space="preserve">ADL:Managing medications</text>
<line x1="436.30" y1="475.50" x2="439.3" y2="475.50" stroke="#333333" stroke-width="1.0"/>
<text x="433.70" y="479.75" font-size="10.7" fill="#4D4D4D" stroke="#4D4D4D" stroke-width="0.1" text-anchor="end" xml:space="preserve">CDR score</text>
<line x1="446.50" y1="482.79999999999995" x2="446.50" y2="485.80" stroke="#333333" stroke-width="1.0"/>
<text x="446.57" y="497.00" font-size="10.7" fill="#4D4D4D" stroke="#4D4D4D" stroke-width="0.1" text-anchor="middle">0.00</text>
<line x1="476.50" y1="482.79999999999995" x2="476.50" y2="485.80" stroke="#333333" stroke-width="1.0"/>
<text x="476.70" y="497.00" font-size="10.7" fill="#4D4D4D" stroke="#4D4D4D" stroke-width="0.1" text-anchor="middle">0.05</text>
<line x1="506.50" y1="482.79999999999995" x2="506.50" y2="485.80" stroke="#333333" stroke-width="1.0"/>
<text x="506.83" y="497.00" font-size="10.7" fill="#4D4D4D" stroke="#4D4D4D" stroke-width="0.1" text-anchor="middle">0.10</text>
<line x1="536.50" y1="482.79999999999995" x2="536.50" y2="485.80" stroke="#333333" stroke-width="1.0"/>
<text x="536.96" y="497.00" font-size="10.7" fill="#4D4D4D" stroke="#4D4D4D" stroke-width="0.1" text-anchor="middle">0.15</text>
<line x1="567.50" y1="482.79999999999995" x2="567.50" y2="485.80" stroke="#333333" stroke-width="1.0"/>
<text x="567.09" y="497.00" font-size="10.7" fill="#4D4D4D" stroke="#4D4D4D" stroke-width="0.1" text-anchor="middle">0.20</text>
<line x1="597.50" y1="482.79999999999995" x2="597.50" y2="485.80" stroke="#333333" stroke-width="1.0"/>
<text x="597.22" y="497.00" font-size="10.7" fill="#4D4D4D" stroke="#4D4D4D" stroke-width="0.1" text-anchor="middle">0.25</text>
<rect x="136.0" y="505.3" width="160.0" height="18.8" fill="#D9D9D9"/>
<text x="216.0" y="519.9" font-size="10.7" fill="#1A1A1A" stroke="#1A1A1A" stroke-width="0.1" text-anchor="middle">Sleep and nighttime behaviors</text>
<rect x="136.0" y="524.1" width="160.0" height="127.10" fill="#EBEBEB"/>
<line x1="164.08" y1="524.1" x2="164.08" y2="651.2" stroke="#FFFFFF" stroke-width="0.6"/>
<line x1="205.69" y1="524.1" x2="205.69" y2="651.2" stroke="#FFFFFF" stroke-width="0.6"/>
<line x1="247.30" y1="524.1" x2="247.30" y2="651.2" stroke="#FFFFFF" stroke-width="0.6"/>
<line x1="288.91" y1="524.1" x2="288.91" y2="651.2" stroke="#FFFFFF" stroke-width="0.6"/>
<line x1="143.27" y1="524.1" x2="143.27" y2="651.2" stroke="#FFFFFF" stroke-width="1.15"/>
<line x1="184.88" y1="524.1" x2="184.88" y2="651.2" stroke="#FFFFFF" stroke-width="1.15"/>
<line x1="226.50" y1="524.1" x2="226.50" y2="651.2" stroke="#FFFFFF" stroke-width="1.15"/>
<line x1="268.11" y1="524.1" x2="268.11" y2="651.2" stroke="#FFFFFF" stroke-width="1.15"/>
<line x1="136.0" y1="532.90" x2="296.0" y2="532.90" stroke="#FFFFFF" stroke-width="1.15"/>
<line x1="136.0" y1="545.20" x2="296.0" y2="545.20" stroke="#FFFFFF" stroke-width="1.15"/>
<line x1="136.0" y1="557.51" x2="296.0" y2="557.51" stroke="#FFFFFF" stroke-width="1.15"/>
<line x1="136.0" y1="569.81" x2="296.0" y2="569.81" stroke="#FFFFFF" stroke-width="1.15"/>
<line x1="136.0" y1="582.12" x2="296.0" y2="582.12" stroke="#FFFFFF" stroke-width="1.15"/>
<line x1="136.0" y1="594.42" x2="296.0" y2="594.42" stroke="#FFFFFF" stroke-width="1.15"/>
<line x1="136.0" y1="606.73" x2="296.0" y2="606.73" stroke="#FFFFFF" stroke-width="1.15"/>
<line x1="136.0" y1="619.03" x2="296.0" y2="619.03" stroke="#FFFFFF" stroke-width="1.15"/>
<line x1="136.0" y1="631.34" x2="296.0" y2="631.34" stroke="#FFFFFF" stroke-width="1.15"/>
<line x1="136.0" y1="643.64" x2="296.0" y2="643.64" stroke="#FFFFFF" stroke-width="1.15"/>
<rect x="143.27" y="527.36" width="145.53" height="11.07" fill="#56B1F7"/>
<rect x="143.27" y="539.67" width="46.63" height="11.07" fill="#254E72"/>
<rect x="143.27" y="551.97" width="34.93" height="11.07" fill="#1F4364"/>
<rect x="143.27" y="564.28" width="15.63" height="11.07" fill="#17324D"/>
<rect x="143.27" y="576.58" width="12.63" height="11.07" fill="#153049"/>
<rect x="143.27" y="588.89" width="10.63" height="11.07" fill="#152E47"/>
<rect x="143.27" y="601.19" width="10.13" height="11.07" fill="#142E47"/>
<rect x="143.27" y="613.50" width="9.63" height="11.07" fill="#142D46"/>
<rect x="143.27" y="625.80" width="9.33" height="11.07" fill="#142D46"/>
<rect x="143.27" y="638.11" width="6.93" height="11.07" fill="#132B43"/>
<line x1="133.00" y1="532.50" x2="136.0" y2="532.50" stroke="#333333" stroke-width="1.0"/>
<text x="130.40" y="537.40" font-size="10.7" fill="#4D4D4D" stroke="#4D4D4D" stroke-width="0.1" text-anchor="end" xml:space="preserve">Sleep disturbance</text>
<line x1="133.00" y1="545.50" x2="136.0" y2="545.50" stroke="#333333" stroke-width="1.0"/>
<text x="130.40" y="549.70" font-size="10.7" fill="#4D4D4D" stroke="#4D4D4D" stroke-width="0.1" text-anchor="end" xml:space="preserve">Hunger/thirst</text>
<line x1="133.00" y1="557.50" x2="136.0" y2="557.50" stroke="#333333" stroke-width="1.0"/>
<text x="130.40" y="562.01" font-size="10.7" fill="#4D4D4D" stroke="#4D4D4D" stroke-width="0.1" text-anchor="end" xml:space="preserve">Urination/bowel movement </text>
<line x1="133.00" y1="569.50" x2="136.0" y2="569.50" stroke="#333333" stroke-width="1.0"/>
<text x="130.40" y="574.31" font-size="10.7" fill="#4D4D4D" stroke="#4D4D4D" stroke-width="0.1" text-anchor="end" xml:space="preserve">Temperature</text>
<line x1="133.00" y1="582.50" x2="136.0" y2="582.50" stroke="#333333" stroke-width="1.0"/>
<text x="130.40" y="586.62" font-size="10.7" fill="#4D4D4D" stroke="#4D4D4D" stroke-width="0.1" text-anchor="end" xml:space="preserve">Sedative</text>
<line x1="133.00" y1="594.50" x2="136.0" y2="594.50" stroke="#333333" stroke-width="1.0"/>
<text x="130.40" y="598.92" font-size="10.7" fill="#4D4D4D" stroke="#4D4D4D" stroke-width="0.1" text-anchor="end" xml:space="preserve">BFI:Conscientiousness</text>
<line x1="133.00" y1="606.50" x2="136.0" y2="606.50" stroke="#333333" stroke-width="1.0"/>
<text x="130.40" y="611.23" font-size="10.7" fill="#4D4D4D" stroke="#4D4D4D" stroke-width="0.1" text-anchor="end" xml:space="preserve">Sum of MMSE</text>
<line x1="133.00" y1="619.50" x2="136.0" y2="619.50" stroke="#333333" stroke-width="1.0"/>
<text x="130.40" y="623.53" font-size="10.7" fill="#4D4D4D" stroke="#4D4D4D" stroke-width="0.1" text-anchor="end" xml:space="preserve">Pain/discomfort</text>
<line x1="133.00" y1="631.50" x2="136.0" y2="631.50" stroke="#333333" stroke-width="1.0"/>
<text x="130.40" y="635.84" font-size="10.7" fill="#4D4D4D" stroke="#4D4D4D" stroke-width="0.1" text-anchor="end" xml:space="preserve">METs/day</text>
<line x1="133.00" y1="643.50" x2="136.0" y2="643.50" stroke="#333333" stroke-width="1.0"/>
<text x="130.40" y="648.14" font-size="10.7" fill="#4D4D4D" stroke="#4D4D4D" stroke-width="0.1" text-anchor="end" xml:space="preserve">Environmental change</text>
<line x1="143.50" y1="651.2" x2="143.50" y2="654.20" stroke="#333333" stroke-width="1.0"/>
<text x="143.27" y="665.40" font-size="10.7" fill="#4D4D4D" stroke="#4D4D4D" stroke-width="0.1" text-anchor="middle">0.0</text>
<line x1="184.50" y1="651.2" x2="184.50" y2="654.20" stroke="#333333" stroke-width="1.0"/>
<text x="184.88" y="665.40" font-size="10.7" fill="#4D4D4D" stroke="#4D4D4D" stroke-width="0.1" text-anchor="middle">0.1</text>
<line x1="226.50" y1="651.2" x2="226.50" y2="654.20" stroke="#333333" stroke-width="1.0"/>
<text x="226.50" y="665.40" font-size="10.7" fill="#4D4D4D" stroke="#4D4D4D" stroke-width="0.1" text-anchor="middle">0.2</text>
<line x1="268.50" y1="651.2" x2="268.50" y2="654.20" stroke="#333333" stroke-width="1.0"/>
<text x="268.11" y="665.40" font-size="10.7" fill="#4D4D4D" stroke="#4D4D4D" stroke-width="0.1" text-anchor="middle">0.3</text>
<defs><linearGradient id="g" x1="0" y1="1" x2="0" y2="0"><stop offset="0.000" stop-color="#132B43"/><stop offset="0.050" stop-color="#16314B"/><stop offset="0.100" stop-color="#193753"/><stop offset="0.150" stop-color="#1C3D5B"/><stop offset="0.200" stop-color="#1F4364"/><stop offset="0.250" stop-color="#22496C"/><stop offset="0.300" stop-color="#265075"/><stop offset="0.350" stop-color="#29567D"/><stop offset="0.400" stop-color="#2C5D86"/><stop offset="0.450" stop-color="#2F638F"/><stop offset="0.500" stop-color="#336A98"/><stop offset="0.550" stop-color="#3671A1"/><stop offset="0.600" stop-color="#3A78AA"/><stop offset="0.650" stop-color="#3D7FB4"/><stop offset="0.700" stop-color="#4186BD"/><stop offset="0.750" stop-color="#448DC6"/><stop offset="0.800" stop-color="#4894D0"/><stop offset="0.850" stop-color="#4B9BDA"/><stop offset="0.900" stop-color="#4FA2E3"/><stop offset="0.950" stop-color="#52AAED"/><stop offset="1.000" stop-color="#56B1F7"/></linearGradient></defs>
<rect x="618.1" y="297.0" width="19.90" height="98.20" fill="url(#g)"/>
<line x1="618.1" y1="370.69" x2="622.1" y2="370.69" stroke="#FFFFFF" stroke-width="0.7" stroke-opacity="0.7"/>
<line x1="634.0" y1="370.69" x2="638.0" y2="370.69" stroke="#FFFFFF" stroke-width="0.7" stroke-opacity="0.7"/>
<text x="645.0" y="375.19" font-size="10.7" fill="#000000" stroke="#000000" stroke-width="0.1">0.1</text>
<line x1="618.1" y1="341.28" x2="622.1" y2="341.28" stroke="#FFFFFF" stroke-width="0.7" stroke-opacity="0.7"/>
<line x1="634.0" y1="341.28" x2="638.0" y2="341.28" stroke="#FFFFFF" stroke-width="0.7" stroke-opacity="0.7"/>
<text x="645.0" y="345.78" font-size="10.7" fill="#000000" stroke="#000000" stroke-width="0.1">0.2</text>
<line x1="618.1" y1="311.86" x2="622.1" y2="311.86" stroke="#FFFFFF" stroke-width="0.7" stroke-opacity="0.7"/>
<line x1="634.0" y1="311.86" x2="638.0" y2="311.86" stroke="#FFFFFF" stroke-width="0.7" stroke-opacity="0.7"/>
<text x="645.0" y="316.36" font-size="10.7" fill="#000000" stroke="#000000" stroke-width="0.1">0.3</text>
<text x="618.4" y="288.2" font-size="13.65" fill="#000000" stroke="#000000" stroke-width="0.1">score</text>
<text x="308.6" y="680" font-size="13.65" fill="#000000" stroke="#000000" stroke-width="0.1" text-anchor="middle">Importance</text>
</svg>
</body></html>
